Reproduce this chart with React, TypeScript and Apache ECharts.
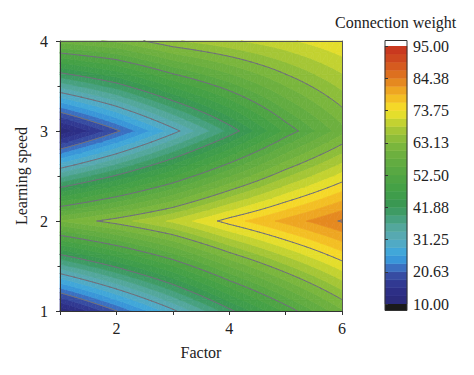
import React, { useEffect, useRef } from 'react';
import * as echarts from 'echarts';

// ---- data (grid of connection weights) ----
const factors = [1, 2, 3, 4, 5, 6];
const speeds = [1, 2, 3, 4];
const weightAtSpeed1 = [10.5, 20.5, 30.5, 41, 50.5, 60];
const weightAtSpeed2 = [60.5, 64.5, 69, 75, 80, 84.7];
const weightAtSpeed3 = [10.5, 20, 30, 40, 50.5, 59.4];
const weightAtSpeed4 = [59, 61, 65.4, 67.9, 70.5, 73.5];

// contour line levels and colour-bar labels
const contourLevels = [20.625, 31.25, 41.875, 52.5, 63.125, 73.75, 84.375];
const colorbarLabels = ['10.00', '20.63', '31.25', '41.88', '52.50', '63.13', '73.75', '84.38', '95.00'];
const scaleMin = 10;
const scaleMax = 95;
const bandCount = 32;

// ---- styles ----
const colorStops: [number, string][] = [
  [10, '#2b2a78'],
  [13, '#2c2c82'],
  [16, '#30358e'],
  [19, '#36489f'],
  [21, '#3b60b4'],
  [23, '#3b82cf'],
  [25.5, '#38a1df'],
  [28, '#45a9d6'],
  [31, '#56aabb'],
  [34, '#58a9a8'],
  [37, '#4ba38a'],
  [40, '#3f9c68'],
  [43, '#3a9852'],
  [48, '#43a046'],
  [53, '#55a743'],
  [58, '#67ae40'],
  [63, '#80b83c'],
  [67, '#a4c536'],
  [70.5, '#cbd530'],
  [73.75, '#f6e52a'],
  [77, '#f4c625'],
  [80.5, '#eea522'],
  [84.4, '#e07a1f'],
  [88, '#d75e1f'],
  [91.5, '#cd441f'],
  [95, '#c7331f'],
];
const FONT = '"Liberation Serif", "DejaVu Serif", serif';
const TEXT = '#222';
const LINE_COLOR = '#6f6f7c';

function hexToRgb(h: string) {
  const n = parseInt(h.slice(1), 16);
  return [(n >> 16) & 255, (n >> 8) & 255, n & 255];
}
function colorAt(v: number) {
  if (v <= colorStops[0][0]) return colorStops[0][1];
  for (let i = 1; i < colorStops.length; i++) {
    if (v <= colorStops[i][0]) {
      const [a, ca] = colorStops[i - 1];
      const [b, cb] = colorStops[i];
      const t = (v - a) / (b - a);
      const A = hexToRgb(ca), B = hexToRgb(cb);
      const c = A.map((x, k) => Math.round(x + (B[k] - x) * t));
      return `rgb(${c[0]},${c[1]},${c[2]})`;
    }
  }
  return colorStops[colorStops.length - 1][1];
}
const step = (scaleMax - scaleMin) / bandCount;
const bandColors = Array.from({ length: bandCount }, (_, k) => colorAt(scaleMin + (k + 0.5) * step));

const weightRows = [weightAtSpeed1, weightAtSpeed2, weightAtSpeed3, weightAtSpeed4];
const cells: number[][] = [];
for (let j = 0; j < speeds.length - 1; j++) {
  for (let i = 0; i < factors.length - 1; i++) {
    cells.push([
      factors[i], speeds[j], factors[i + 1], speeds[j + 1],
      weightRows[j][i], weightRows[j][i + 1], weightRows[j + 1][i], weightRows[j + 1][i + 1],
    ]);
  }
}
const bands = Array.from({ length: bandCount }, (_, k) => [0, scaleMin + k * step, 1, scaleMin + (k + 1) * step]);

type P = { x: number; y: number; v: number };

function triangles(api: any): P[][] {
  const x0 = api.value(0), y0 = api.value(1), x1 = api.value(2), y1 = api.value(3);
  const v00 = api.value(4), v10 = api.value(5), v01 = api.value(6), v11 = api.value(7);
  const N = 8;
  const nodes: P[][] = [];
  for (let b = 0; b <= N; b++) {
    const row: P[] = [];
    for (let a = 0; a <= N; a++) {
      const u = a / N, w = b / N;
      const v = v00 * (1 - u) * (1 - w) + v10 * u * (1 - w) + v01 * (1 - u) * w + v11 * u * w;
      const p = api.coord([x0 + (x1 - x0) * u, y0 + (y1 - y0) * w]);
      row.push({ x: p[0], y: p[1], v });
    }
    nodes.push(row);
  }
  const tris: P[][] = [];
  for (let b = 0; b < N; b++) {
    for (let a = 0; a < N; a++) {
      const A = nodes[b][a], B = nodes[b][a + 1], C = nodes[b + 1][a + 1], D = nodes[b + 1][a];
      tris.push([A, B, C], [A, C, D]);
    }
  }
  return tris;
}

function clip(poly: P[], level: number, above: boolean): P[] {
  const out: P[] = [];
  for (let i = 0; i < poly.length; i++) {
    const p = poly[i], q = poly[(i + 1) % poly.length];
    const pin = above ? p.v >= level : p.v <= level;
    const qin = above ? q.v >= level : q.v <= level;
    if (pin) out.push(p);
    if (pin !== qin) {
      const t = (level - p.v) / (q.v - p.v);
      out.push({ x: p.x + (q.x - p.x) * t, y: p.y + (q.y - p.y) * t, v: level });
    }
  }
  return out;
}

function bandIndex(v: number) {
  return Math.max(0, Math.min(bandCount - 1, Math.floor((v - scaleMin) / step)));
}

function polyEl(pts: P[], color: string) {
  return {
    type: 'polygon',
    shape: { points: pts.map((p) => [p.x, p.y]) },
    style: { fill: color, stroke: color, lineWidth: 0.7 },
    silent: true,
  };
}

function renderFill(_params: any, api: any) {
  const children: any[] = [];
  for (const tri of triangles(api)) {
    const vs = tri.map((p) => p.v);
    const kmin = bandIndex(Math.min(...vs));
    const kmax = bandIndex(Math.max(...vs));
    if (kmin === kmax) {
      children.push(polyEl(tri, bandColors[kmin]));
      continue;
    }
    for (let k = kmin; k <= kmax; k++) {
      const lo = scaleMin + k * step, hi = scaleMin + (k + 1) * step;
      let poly = tri;
      if (k > kmin) poly = clip(poly, lo, true);
      if (k < kmax) poly = clip(poly, hi, false);
      if (poly.length >= 3) children.push(polyEl(poly, bandColors[k]));
    }
  }
  return { type: 'group', children };
}

function renderLines(_params: any, api: any) {
  const children: any[] = [];
  for (const tri of triangles(api)) {
    for (const L of contourLevels) {
      const pts: number[][] = [];
      for (let i = 0; i < 3; i++) {
        const p = tri[i], q = tri[(i + 1) % 3];
        if ((p.v >= L) !== (q.v >= L)) {
          const t = (L - p.v) / (q.v - p.v);
          pts.push([p.x + (q.x - p.x) * t, p.y + (q.y - p.y) * t]);
        }
      }
      if (pts.length === 2) {
        children.push({
          type: 'line',
          shape: { x1: pts[0][0], y1: pts[0][1], x2: pts[1][0], y2: pts[1][1] },
          style: { stroke: LINE_COLOR, lineWidth: 1, lineCap: 'round' },
          silent: true,
        });
      }
    }
  }
  return { type: 'group', children };
}

function renderBand(params: any, api: any) {
  const a = api.coord([api.value(0), api.value(3)]);
  const b = api.coord([api.value(2), api.value(1)]);
  const mid = (api.value(1) + api.value(3)) / 2;
  const c = colorAt(mid);
  const children: any[] = [
    {
      type: 'rect',
      shape: { x: a[0], y: a[1], width: b[0] - a[0], height: b[1] - a[1] },
      style: { fill: c, stroke: c, lineWidth: 0.5 },
    },
  ];
  if (params.dataIndex === 0) {
    children.push({
      type: 'rect',
      shape: { x: a[0], y: b[1], width: b[0] - a[0], height: 6.5 },
      style: { fill: '#1a1a1a' },
    });
  }
  if (params.dataIndex === bandCount - 1) {
    children.push({
      type: 'rect',
      shape: { x: a[0], y: a[1] - 5.5, width: b[0] - a[0], height: 5.5 },
      style: { fill: '#ffffff' },
    });
  }
  return { type: 'group', children };
}

function renderFrame(_params: any, api: any) {
  const a = api.coord([api.value(0), api.value(3)]);
  const b = api.coord([api.value(2), api.value(1)]);
  return {
    type: 'rect',
    shape: { x: a[0], y: a[1] - 5.5, width: b[0] - a[0], height: b[1] - a[1] + 12 },
    style: { fill: 'none', stroke: '#333', lineWidth: 1 },
  };
}

export default function App() {
  const ref = useRef<HTMLDivElement>(null);
  useEffect(() => {
    if (!ref.current) return;
    const chart = echarts.init(ref.current, null, { renderer: 'svg' });
    const labelStyle = { fontFamily: FONT, fontSize: 16, color: TEXT };
    chart.setOption({
      animation: false,
      backgroundColor: '#ffffff',
      textStyle: { fontFamily: FONT },
      title: {
        text: 'Connection weight',
        left: 335,
        top: 14,
        padding: 0,
        textStyle: { fontFamily: FONT, fontSize: 16, fontWeight: 'normal', color: TEXT },
      },
      grid: [
        { left: 60, top: 41, width: 282, height: 270 },
        { left: 385, top: 46, width: 22, height: 258 },
      ],
      xAxis: [
        {
          gridIndex: 0, type: 'value', min: 1, max: 6, interval: 1, position: 'bottom', z: 10,
          axisLine: { lineStyle: { color: '#333', width: 1 } },
          axisTick: { length: 4, lineStyle: { color: '#333' } },
          axisLabel: { ...labelStyle, margin: 9, formatter: (v: number) => (v % 2 === 0 ? String(v) : '') },
          splitLine: { show: false },
          name: 'Factor', nameLocation: 'middle', nameGap: 33,
          nameTextStyle: labelStyle,
        },
        {
          gridIndex: 0, type: 'value', min: 1, max: 6, position: 'top', z: 10,
          axisLine: { show: true, lineStyle: { color: '#555', width: 1 } },
          axisTick: { show: false }, axisLabel: { show: false }, splitLine: { show: false },
        },
        { gridIndex: 1, type: 'value', min: 0, max: 1, show: false },
      ],
      yAxis: [
        {
          gridIndex: 0, type: 'value', min: 1, max: 4, interval: 1, position: 'left', z: 10,
          axisLine: { show: true, lineStyle: { color: '#333', width: 1 } },
          axisTick: { show: true, length: 4, lineStyle: { color: '#333' } },
          minorTick: { show: true, splitNumber: 2, length: 2.5, lineStyle: { color: '#333' } },
          axisLabel: { ...labelStyle, margin: 12 },
          splitLine: { show: false },
          name: 'Learning speed', nameLocation: 'middle', nameGap: 24,
          nameTextStyle: labelStyle,
        },
        {
          gridIndex: 0, type: 'value', min: 1, max: 4, position: 'right', z: 10,
          axisLine: { show: true, lineStyle: { color: '#555', width: 1 } },
          axisTick: { show: false }, axisLabel: { show: false }, splitLine: { show: false },
        },
        {
          gridIndex: 1, type: 'value', min: scaleMin, max: scaleMax, interval: (scaleMax - scaleMin) / (colorbarLabels.length - 1),
          position: 'right', z: 10,
          axisLine: { show: false },
          axisTick: { show: true, length: 3, inside: false, lineStyle: { color: '#333' } },
          axisLabel: {
            ...labelStyle, margin: 6,
            formatter: (v: number) => colorbarLabels[Math.round((v - scaleMin) / ((scaleMax - scaleMin) / (colorbarLabels.length - 1)))],
          },
          splitLine: { show: false },
        },
      ],
      series: [
        {
          type: 'custom', name: 'fill', xAxisIndex: 0, yAxisIndex: 0, z: 2, silent: true,
          data: cells, encode: { x: [0, 2], y: [1, 3] }, renderItem: renderFill,
        },
        {
          type: 'custom', name: 'lines', xAxisIndex: 0, yAxisIndex: 0, z: 3, silent: true,
          data: cells, encode: { x: [0, 2], y: [1, 3] }, renderItem: renderLines,
        },
        {
          type: 'custom', name: 'colorbar', xAxisIndex: 2, yAxisIndex: 2, z: 2, silent: true,
          data: bands, encode: { x: [0, 2], y: [1, 3] }, renderItem: renderBand,
        },
        {
          type: 'custom', name: 'colorbarFrame', xAxisIndex: 2, yAxisIndex: 2, z: 4, silent: true,
          data: [[0, scaleMin, 1, scaleMax]], encode: { x: [0, 2], y: [1, 3] }, renderItem: renderFrame,
        },
      ],
    });
    return () => chart.dispose();
  }, []);
  return <div ref={ref} style={{ position: 'fixed', left: 0, top: 0, width: 474, height: 375 }} />;
}
